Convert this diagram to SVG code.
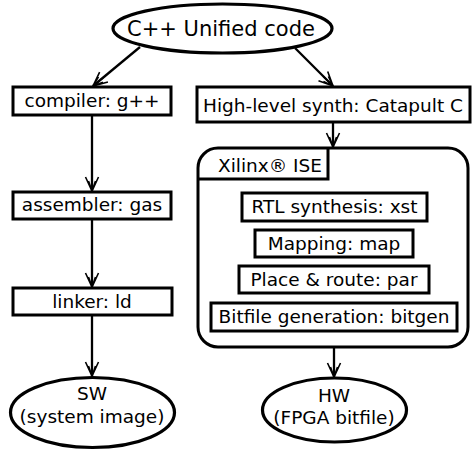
<svg xmlns="http://www.w3.org/2000/svg" width="474" height="453" viewBox="0 0 474 453">
<defs>
<style>
.box{fill:#fff;stroke:#000;stroke-width:3}
.el{fill:#fff;stroke:#000;stroke-width:3.2}
.t{font-family:"DejaVu Sans",sans-serif;font-size:18.5px;fill:#000;text-anchor:middle}
.c{fill:none;stroke:#000;stroke-width:2.3}
</style>
<marker id="ah" viewBox="-16 -8 18 16" markerWidth="18" markerHeight="16" refX="0" refY="0" orient="auto" markerUnits="userSpaceOnUse">
<path d="M-14,-6.5 L0,0 L-14,6.5 M-10,-3.5 L0,0 L-10,3.5 M-14,0 L0,0" fill="none" stroke="#000" stroke-width="1.6"/>
</marker>
</defs>
<rect width="474" height="453" fill="#fff"/>
<g id="connectors">
<line class="c" x1="140" y1="47" x2="93" y2="86" marker-end="url(#ah)"/>
<line class="c" x1="295" y1="48" x2="333" y2="86" marker-end="url(#ah)"/>
<line class="c" x1="92" y1="115" x2="92" y2="191" marker-end="url(#ah)"/>
<line class="c" x1="92" y1="219" x2="92" y2="287" marker-end="url(#ah)"/>
<line class="c" x1="92" y1="315" x2="92" y2="376" marker-end="url(#ah)"/>
<line class="c" x1="333" y1="122" x2="333" y2="147" marker-end="url(#ah)"/>
<line class="c" x1="334" y1="347" x2="334" y2="377" marker-end="url(#ah)"/>
</g>
<g id="n-top">
<ellipse class="el" cx="222.5" cy="28.5" rx="109.5" ry="24.5"/>
<text class="t" x="221" y="36" style="font-size:21px">C++ Unified code</text>
</g>
<g id="n-compiler">
<rect class="box" x="13" y="87" width="158" height="28"/>
<text class="t" x="92" y="107">compiler: g++</text>
</g>
<g id="n-assembler">
<rect class="box" x="13" y="192" width="158" height="27"/>
<text class="t" x="92" y="211">assembler: gas</text>
</g>
<g id="n-linker">
<rect class="box" x="13" y="288" width="159" height="27"/>
<text class="t" x="92" y="308">linker: ld</text>
</g>
<g id="n-sw">
<ellipse class="el" cx="92.5" cy="412.5" rx="82" ry="35"/>
<text class="t" x="92" y="400">SW</text>
<text class="t" x="92" y="423">(system image)</text>
</g>
<g id="n-hls">
<rect class="box" x="197" y="87" width="273" height="35"/>
<text class="t" x="333" y="112">High-level synth: Catapult C</text>
</g>
<g id="n-ise">
<rect class="box" x="198" y="148" width="270" height="199" rx="20" ry="20"/>
<path d="M198,179 H328 V148" fill="none" stroke="#000" stroke-width="3"/>
<text class="t" x="270" y="172">Xilinx® ISE</text>
</g>
<g id="n-rtl">
<rect class="box" x="242" y="193" width="185" height="28"/>
<text class="t" x="334.5" y="213">RTL synthesis: xst</text>
</g>
<g id="n-map">
<rect class="box" x="255" y="230" width="158" height="27"/>
<text class="t" x="334" y="250">Mapping: map</text>
</g>
<g id="n-par">
<rect class="box" x="239" y="266" width="190" height="27"/>
<text class="t" x="334" y="286">Place &amp; route: par</text>
</g>
<g id="n-bit">
<rect class="box" x="211" y="303" width="246" height="28"/>
<text class="t" x="334" y="323">Bitfile generation: bitgen</text>
</g>
<g id="n-hw">
<ellipse class="el" cx="334.5" cy="410" rx="72" ry="32"/>
<text class="t" x="334" y="402">HW</text>
<text class="t" x="334" y="424">(FPGA bitfile)</text>
</g>
</svg>
